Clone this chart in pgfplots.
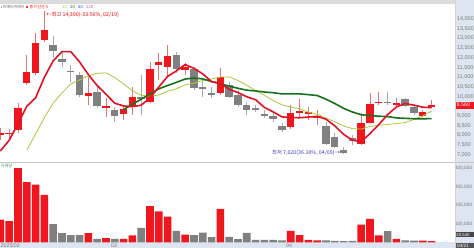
\documentclass[border=0pt]{standalone}
\usepackage{pgfplots}
\pgfplotsset{compat=1.18}
\usepackage{pgfplotstable}
\usepackage{fontspec}
\setmainfont{Liberation Sans}
\newfontfamily\kr{Noto Sans CJK KR}

\definecolor{upRed}{RGB}{240,22,30}
\definecolor{upWick}{RGB}{222,120,120}
\definecolor{dnGray}{RGB}{128,128,128}
\definecolor{dnWick}{RGB}{170,170,170}
\definecolor{maFive}{RGB}{226,18,36}
\definecolor{maTen}{RGB}{170,200,60}
\definecolor{maTwenty}{RGB}{24,112,28}
\definecolor{strip}{RGB}{221,230,240}
\definecolor{tickGray}{RGB}{120,120,120}
\definecolor{lowBlue}{RGB}{60,60,190}
\definecolor{volLabel}{RGB}{70,150,100}

% daily candles: index, open, high, low, close, volume
\pgfplotstableread{
i o h l c v
0 8050 8380 7760 8120 124000
1 8080 8330 7690 8130 115000
2 8280 9670 8120 9410 402000
3 10720 12140 10600 11280 326000
4 11230 13280 11110 12750 313000
5 12920 14390 12830 13430 258000
10 10030 11010 9570 10170 50000
12 9410 9930 8950 9520 23000
14 9100 9570 8790 9360 20000
15 9480 10500 9050 10000 38000
17 9720 11780 9670 11420 196000
18 11630 12250 10860 11800 168000
19 11540 12660 10960 12090 140000
21 11370 11730 11110 11540 43000
25 10200 11470 10080 11000 182000
33 8420 9570 8330 9140 63000
34 9140 9860 8880 9260 40000
35 9140 9480 8790 9220 14000
36 8880 9310 8540 9000 12000
41 7560 9140 7500 8620 97000
42 8650 10170 8620 9620 128000
43 9660 10250 9570 9740 38000
45 9570 9910 9480 9690 20000
48 9000 9300 8950 9220 10000
49 9450 9820 9400 9560 8000
}\upcandles

\pgfplotstableread{
i o h l c v
6 12660 13120 12000 12350 99000
7 11920 12250 11530 11780 50000
8 11330 11630 10750 11280 40000
9 11110 11270 9980 10080 40000
11 10250 10500 9410 9530 20000
13 9310 9460 8690 9000 20000
16 10000 11100 9050 9900 79000
20 12140 12310 11220 11410 63000
22 11410 11540 10340 10430 40000
23 10510 10960 9980 10380 54000
24 10200 10510 9930 10080 29000
26 10600 10770 9910 10000 31000
27 10080 10340 9480 9570 18000
28 9570 9740 9050 9310 52000
29 9390 9570 9220 9310 14000
30 9100 9310 8880 9040 14000
31 9000 9170 8710 8830 14000
32 8480 8640 8190 8280 11000
37 8480 8710 7500 7560 12000
38 7900 8110 7330 7420 9000
39 7250 7420 7020 7080 7000
40 7850 8020 7500 7710 9000
44 9740 10250 9570 9660 61000
46 9860 9930 9480 9520 12000
47 9450 9620 9050 9170 10000
}\dncandles

% moving averages of the close
\pgfplotstableread{
i m
0 7200
1 7750
2 8600
3 9500
4 9938
5 11000
6 11844
7 12318
8 12318
9 11784
10 11132
11 10568
12 10116
13 9660
14 9516
15 9482
16 9556
17 9936
18 10496
19 11042
20 11324
21 11652
22 11454
23 11170
24 10768
25 10686
26 10378
27 10206
28 9992
29 9838
30 9446
31 9212
32 8954
33 8920
34 8910
35 8946
36 8980
37 8836
38 8492
39 8056
40 7754
41 7678
42 8090
43 8554
44 9070
45 9466
46 9646
47 9556
48 9452
49 9432
}\mafive

\pgfplotstableread{
i m
3 7250
4 8070
5 8920
6 9670
7 10190
8 10650
9 10861
10 11066
11 11206
12 11217
13 10989
14 10650
15 10307
16 10062
17 10026
18 10078
19 10279
20 10403
21 10604
22 10695
23 10833
24 10905
25 11005
26 11015
27 10830
28 10581
29 10303
30 10066
31 9795
32 9580
33 9456
34 9374
35 9196
36 9096
37 8895
38 8706
39 8483
40 8350
41 8329
42 8463
43 8523
44 8563
45 8610
46 8662
47 8823
48 9003
49 9251
}\maten

\pgfplotstableread{
i m
14 9330
15 9600
16 9870
17 10130
18 10400
19 10570
20 10735
21 10905
22 10956
23 10911
24 10778
25 10656
26 10539
27 10428
28 10330
29 10291
30 10235
31 10200
32 10138
33 10145
34 10140
35 10101
36 10056
37 9863
38 9644
39 9393
40 9208
41 9062
42 9022
43 8990
44 8969
45 8903
46 8879
47 8859
48 8855
49 8867
}\matwenty

\pgfplotsset{
  panel/.style={
    scale only axis, width=455pt,
    xmin=-0.045, xmax=51.66,
    axis line style={draw=none},
    xtick=\empty,
    yticklabel pos=right,
    major tick length=0pt,
    yticklabel style={font=\fontsize{5.5}{6}\selectfont, text=tickGray,
      anchor=west, xshift=-1.5pt},
    /pgf/number format/fixed,
    /pgf/number format/precision=0,
    /pgf/number format/1000 sep={,},
    /pgf/number format/assume math mode=true,
    scaled y ticks=false,
  },
  wicks/.style={draw=none, mark=none, forget plot,
    error bars/.cd, y dir=plus, y explicit, error mark=none,
    error bar style={draw=#1, line width=0.8pt}},
  bodies/.style={draw=none, mark=none, forget plot,
    error bars/.cd, y dir=both, y explicit, error mark=none,
    error bar style={draw=#1, line width=7.4pt}},
}

\begin{document}
\begin{tikzpicture}[x=1pt,y=1pt]
\fill[white] (0,0) rectangle (474,-248);
\fill[strip] (455,0) rectangle (474,-248);
\fill[strip] (0,-242.5) rectangle (455,-248);
\fill[gray!28] (0,0) rectangle (455,-4.5);

% price panel
\begin{axis}[panel,
  at={(0pt,-6pt)}, anchor=north west, height=156pt,
  ymin=6629, ymax=14670,
  ytick={7000,7500,...,14000},
]
\addplot[wicks=upWick] table[x=i, y=l, y error plus expr=\thisrow{h}-\thisrow{l}] {\upcandles};
\addplot[wicks=dnWick] table[x=i, y=l, y error plus expr=\thisrow{h}-\thisrow{l}] {\dncandles};
\addplot[bodies=upRed] table[x=i, y expr=0.5*(\thisrow{o}+\thisrow{c}),
  y error expr=0.5*abs(\thisrow{c}-\thisrow{o})] {\upcandles};
\addplot[bodies=dnGray] table[x=i, y expr=0.5*(\thisrow{o}+\thisrow{c}),
  y error expr=0.5*abs(\thisrow{c}-\thisrow{o})] {\dncandles};
\addplot[maTen, line width=0.8pt, line join=round] table[x=i, y=m] {\maten};
\addplot[maTwenty, line width=1.6pt, line join=round] table[x=i, y=m] {\matwenty};
\addplot[maFive, line width=1.6pt, line join=round] table[x=i, y=m] {\mafive};
\node[anchor=west, text=red, inner sep=0pt, font=\kr\fontsize{5.3}{6}\selectfont]
  at (axis cs:5.2,14200) {←최고 14,390(-33.56\%, 02/19)};
\node[anchor=east, text=lowBlue, inner sep=0pt, font=\kr\fontsize{5.3}{6}\selectfont]
  at (axis cs:38.6,7090) {최저 7,020(36.18\%, 04/09)→};
\end{axis}

% volume panel
\begin{axis}[panel,
  at={(0pt,-162.5pt)}, anchor=north west, height=80pt,
  ymin=0, ymax=432400,
  ytick={100000,200000,300000,400000},
  yticklabel style={font=\fontsize{4.8}{5}\selectfont, xshift=-2.2pt},
]
\addplot[ybar, bar width=7.6pt, fill=upRed, draw=none] table[x=i, y=v] {\upcandles};
\addplot[ybar, bar width=7.6pt, fill=dnGray, draw=none] table[x=i, y=v] {\dncandles};
\end{axis}

\draw[gray!45, line width=0.6pt] (0,-162.5) -- (474,-162.5);
\draw[gray!35, line width=0.4pt] (455,0) -- (455,-248);

% header
\fill[gray!70] (0.5,-5.6) rectangle (2.1,-8.2);
\node[anchor=west, inner sep=0pt, text=gray!75!black, font=\kr\fontsize{3.9}{4}\selectfont] at (2.8,-7) {피에이치에이};
\fill[red!80] (26.2,-5.9) rectangle (27.9,-8.1);
\node[anchor=west, inner sep=0pt, text=red, font=\kr\fontsize{3.9}{4}\selectfont] at (29.5,-7) {종가 단순 5};
\node[anchor=west, inner sep=0pt, text=maTen, font=\fontsize{4.2}{5}\selectfont] at (62,-7) {10};
\node[anchor=west, inner sep=0pt, text=maTwenty, font=\fontsize{4.2}{5}\selectfont] at (70,-7) {20};
\node[anchor=west, inner sep=0pt, text=blue!70, font=\fontsize{4.2}{5}\selectfont] at (78,-7) {60};
\node[anchor=west, inner sep=0pt, text=violet!60, font=\fontsize{4.2}{5}\selectfont] at (86,-7) {120};

\node[anchor=west, inner sep=0pt, text=volLabel, font=\kr\fontsize{4.2}{5}\selectfont] at (0.5,-166) {거래량};

% current price tag and axis-side boxes
\fill[upRed] (455.5,-101.6) rectangle (474,-108.6);
\node[anchor=west, inner sep=0pt, text=white, font=\fontsize{5.3}{6}\selectfont] at (456.5,-105.1) {9,560};
\fill[gray!55!black] (455.5,-232.5) rectangle (474,-237.5);
\node[anchor=west, inner sep=0pt, text=white, font=\fontsize{4.3}{5}\selectfont] at (456.2,-235) {40,540};
\fill[gray!65!black] (455.5,-243) rectangle (474,-248);
\node[anchor=west, inner sep=0pt, text=white, font=\fontsize{4.6}{5}\selectfont] at (457,-245.5) {04/21};

% month labels
\node[anchor=west, inner sep=0pt, text=tickGray, font=\fontsize{5.3}{6}\selectfont] at (0.5,-245.5) {2025/02};
\node[inner sep=0pt, text=tickGray, font=\fontsize{5.3}{6}\selectfont] at (114,-245.5) {03};
\node[inner sep=0pt, text=tickGray, font=\fontsize{5.3}{6}\selectfont] at (289,-245.5) {04};

\pgfresetboundingbox
\path[use as bounding box] (0,0) rectangle (474,-248);
\end{tikzpicture}
\end{document}
